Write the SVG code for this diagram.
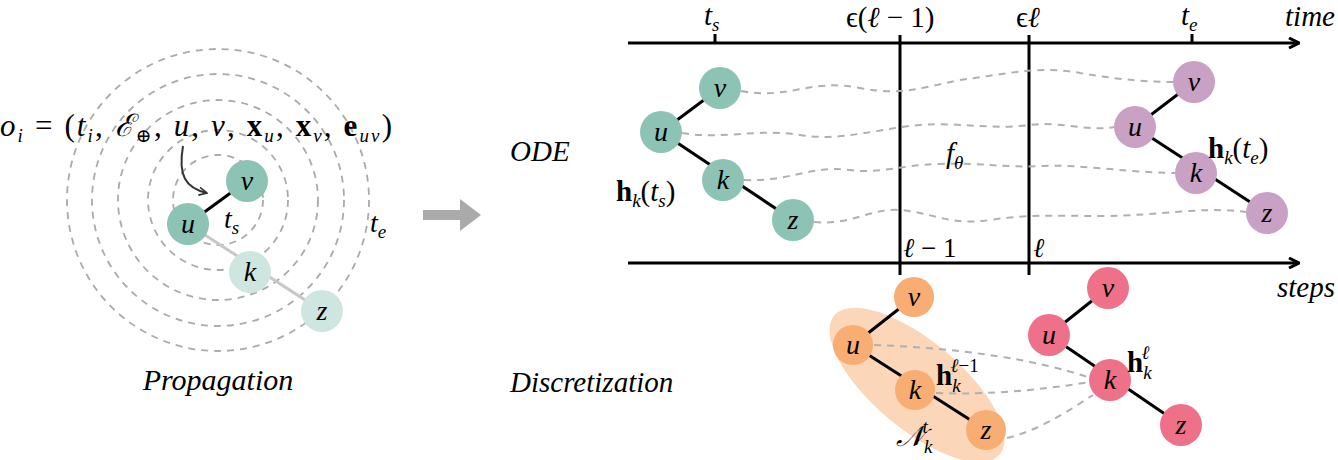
<svg xmlns="http://www.w3.org/2000/svg" width="1338" height="460" viewBox="0 0 1338 460" font-family="'Liberation Serif', 'Times New Roman', 'DejaVu Serif', serif">
<defs>
<marker id="ah" viewBox="0 0 12 12" refX="10" refY="6" markerWidth="12" markerHeight="12" markerUnits="userSpaceOnUse" orient="auto"><path d="M1,1 L11,6 L1,11" fill="none" stroke="#000" stroke-width="3"/></marker>
<marker id="ah2" viewBox="0 0 10 10" refX="9" refY="5" markerWidth="10" markerHeight="10" markerUnits="userSpaceOnUse" orient="auto"><path d="M1,1 L9,5 L1,9" fill="none" stroke="#333" stroke-width="1.6"/></marker>
<style>
text{font-family:'Liberation Serif','Times New Roman','DejaVu Serif',serif;fill:#000}
.i{font-style:italic}
.b{font-weight:bold}
.n{font-style:italic;font-size:28px;text-anchor:middle}
.ring{fill:none;stroke:#aaa;stroke-width:1.8;stroke-dasharray:7 6}
.wv{fill:none;stroke:#b0b0b0;stroke-width:2;stroke-dasharray:7 6}
.e{stroke:#000;stroke-width:3}
.ax{stroke:#000;stroke-width:3;fill:none}
.teal{fill:#8cc3b4}.lt{fill:#cfe6e0}.pur{fill:#c9a1c4}.org{fill:#f8ad72}.pink{fill:#ee7189}
</style>
</defs>
<g id="propagation">
<circle class="ring" cx="218" cy="200" r="151"/>
<circle class="ring" cx="218" cy="200" r="126"/>
<circle class="ring" cx="218" cy="200" r="100"/>
<circle class="ring" cx="218" cy="200" r="70"/>
<circle class="ring" cx="218" cy="200" r="45"/>
<line x1="188" y1="224" x2="322" y2="311" stroke="#c8c8c8" stroke-width="3"/>
<line class="e" x1="188" y1="224" x2="247" y2="181"/>
<path d="M183,146 C178,175 185,188 207,193" fill="none" stroke="#333" stroke-width="2" marker-end="url(#ah2)"/>
<g id="p_u"><circle class="teal" cx="188" cy="224" r="21"/><text class="n" x="188" y="233">u</text></g>
<g id="p_v"><circle class="teal" cx="247" cy="181" r="21"/><text class="n" x="247" y="190">v</text></g>
<g id="p_k"><circle class="lt" cx="250" cy="272" r="21"/><text class="n" x="250" y="281">k</text></g>
<g id="p_z"><circle class="lt" cx="322" cy="311" r="21"/><text class="n" x="322" y="320">z</text></g>
<text x="0" y="136" font-size="31" textLength="392" lengthAdjust="spacing"><tspan class="i">o</tspan><tspan font-size="19" dy="6" class="i">i</tspan><tspan dy="-6"> = (</tspan><tspan class="i">t</tspan><tspan font-size="19" dy="6" class="i">i</tspan><tspan dy="-6">, </tspan><tspan class="i">ℰ</tspan><tspan font-size="19" dy="6">⊕</tspan><tspan dy="-6">, </tspan><tspan class="i">u</tspan>, <tspan class="i">v</tspan>, <tspan class="b">x</tspan><tspan font-size="19" dy="6" class="i">u</tspan><tspan dy="-6">, </tspan><tspan class="b">x</tspan><tspan font-size="19" dy="6" class="i">v</tspan><tspan dy="-6">, </tspan><tspan class="b">e</tspan><tspan font-size="19" dy="6" class="i">uv</tspan><tspan dy="-6">)</tspan></text>
<text x="224" y="228" font-size="28" class="i">t<tspan font-size="19" dy="6">s</tspan></text>
<text x="370" y="232" font-size="28" class="i">t<tspan font-size="19" dy="6">e</tspan></text>
<text x="218" y="390" font-size="30" class="i" text-anchor="middle">Propagation</text>
</g>
<g id="bigarrow"><path d="M423,210 H460 V199 L481,215 L460,231 V220 H423 Z" fill="#aaa"/></g>
<g id="connectors">
<line class="ax" x1="628" y1="43" x2="1298" y2="43" marker-end="url(#ah)"/>
<line class="ax" x1="628" y1="263" x2="1298" y2="263" marker-end="url(#ah)"/>
<line class="ax" x1="715" y1="34" x2="715" y2="43"/>
<line class="ax" x1="1192" y1="34" x2="1192" y2="43"/>
<line class="ax" x1="900" y1="35" x2="900" y2="275"/>
<line class="ax" x1="1029" y1="35" x2="1029" y2="275"/>
<path class="wv" d="M741,91 C790,100 810,78 860,88 C900,96 920,88 960,80 C1000,75 1040,65 1080,73 C1110,78 1140,82 1173,82"/>
<path class="wv" d="M682,133 C720,140 760,128 800,135 C840,142 880,128 920,125 C960,122 990,130 1030,125 C1060,121 1090,132 1114,127"/>
<path class="wv" d="M744,180 C790,182 810,165 850,170 C880,174 900,165 940,164 C980,162 1000,168 1040,166 C1080,164 1120,172 1175,173"/>
<path class="wv" d="M814,222 C850,226 870,208 900,210 C930,212 950,226 990,220 C1030,214 1060,216 1100,216 C1160,216 1200,206 1246,212"/>
<line class="e" x1="661" y1="132" x2="720" y2="88"/><line class="e" x1="661" y1="132" x2="793" y2="220"/>
<line class="e" x1="1135" y1="127" x2="1194" y2="82"/><line class="e" x1="1135" y1="127" x2="1267" y2="213"/>
<ellipse cx="917" cy="385" rx="108" ry="44" transform="rotate(40 917 385)" fill="#fbd6b8"/>
<line class="e" x1="853" y1="345" x2="914" y2="297"/><line class="e" x1="853" y1="345" x2="986" y2="430"/>
<line class="e" x1="1049" y1="335" x2="1108" y2="288"/><line class="e" x1="1049" y1="335" x2="1181" y2="425"/>
<path class="wv" d="M874,345 C960,348 1040,360 1090,378"/>
<path class="wv" d="M936,393 C990,395 1040,390 1090,382"/>
<path class="wv" d="M1007,438 C1040,430 1070,410 1093,395"/>
</g>
<g id="ode_nodes">
<g id="s_v"><circle class="teal" cx="720" cy="88" r="21"/><text class="n" x="720" y="97">v</text></g>
<g id="s_u"><circle class="teal" cx="661" cy="132" r="21"/><text class="n" x="661" y="141">u</text></g>
<g id="s_k"><circle class="teal" cx="723" cy="180" r="21"/><text class="n" x="723" y="189">k</text></g>
<g id="s_z"><circle class="teal" cx="793" cy="220" r="21"/><text class="n" x="793" y="229">z</text></g>
<g id="e_v"><circle class="pur" cx="1194" cy="82" r="21"/><text class="n" x="1194" y="91">v</text></g>
<g id="e_u"><circle class="pur" cx="1135" cy="127" r="21"/><text class="n" x="1135" y="136">u</text></g>
<g id="e_k"><circle class="pur" cx="1196" cy="173" r="21"/><text class="n" x="1196" y="182">k</text></g>
<g id="e_z"><circle class="pur" cx="1267" cy="213" r="21"/><text class="n" x="1267" y="222">z</text></g>
</g>
<g id="disc_nodes">
<g id="o_v"><circle class="org" cx="914" cy="297" r="20"/><text class="n" x="914" y="306">v</text></g>
<g id="o_u"><circle class="org" cx="853" cy="345" r="20"/><text class="n" x="853" y="354">u</text></g>
<g id="o_k"><circle class="org" cx="915" cy="390" r="20"/><text class="n" x="915" y="399">k</text></g>
<g id="o_z"><circle class="org" cx="986" cy="430" r="20"/><text class="n" x="986" y="439">z</text></g>
<g id="q_v"><circle class="pink" cx="1108" cy="288" r="21"/><text class="n" x="1108" y="297">v</text></g>
<g id="q_u"><circle class="pink" cx="1049" cy="335" r="21"/><text class="n" x="1049" y="344">u</text></g>
<g id="q_k"><circle class="pink" cx="1110" cy="380" r="21"/><text class="n" x="1110" y="389">k</text></g>
<g id="q_z"><circle class="pink" cx="1181" cy="425" r="21"/><text class="n" x="1181" y="434">z</text></g>
</g>
<g id="labels" font-size="29">
<text x="704" y="25" class="i">t<tspan font-size="19" dy="6">s</tspan></text>
<text x="1181" y="25" class="i">t<tspan font-size="19" dy="6">e</tspan></text>
<text x="846" y="27">ϵ(<tspan class="i">ℓ</tspan> − 1)</text>
<text x="1016" y="27">ϵ<tspan class="i">ℓ</tspan></text>
<text x="1335" y="26" class="i" text-anchor="end">time</text>
<text x="1335" y="297" class="i" text-anchor="end">steps</text>
<text x="903" y="257" font-size="27"><tspan class="i">ℓ</tspan> − 1</text>
<text x="1033" y="257" font-size="27" class="i">ℓ</text>
<text x="946" y="163" class="i">f<tspan font-size="19" dy="6">θ</tspan></text>
<text x="616" y="201"><tspan class="b">h</tspan><tspan font-size="19" dy="6" class="i">k</tspan><tspan dy="-6">(</tspan><tspan class="i">t</tspan><tspan font-size="19" dy="6" class="i">s</tspan><tspan dy="-6">)</tspan></text>
<text x="1208" y="158"><tspan class="b">h</tspan><tspan font-size="19" dy="6" class="i">k</tspan><tspan dy="-6">(</tspan><tspan class="i">t</tspan><tspan font-size="19" dy="6" class="i">e</tspan><tspan dy="-6">)</tspan></text>
<text x="936" y="385"><tspan class="b">h</tspan><tspan font-size="19" dy="7" class="i">k</tspan><tspan font-size="19" dx="-10" dy="-20"><tspan class="i">ℓ</tspan>−1</tspan></text>
<text x="1127" y="372"><tspan class="b">h</tspan><tspan font-size="19" dy="7" class="i">k</tspan><tspan font-size="19" dx="-10" dy="-20" class="i">ℓ</tspan></text>
<text x="896" y="446" class="i">𝒩<tspan font-size="19" dy="7">k</tspan><tspan font-size="19" dx="-10" dy="-20">t</tspan></text>
<text x="510" y="161" class="i">ODE</text>
<text x="510" y="392" class="i">Discretization</text>
</g>
</svg>
